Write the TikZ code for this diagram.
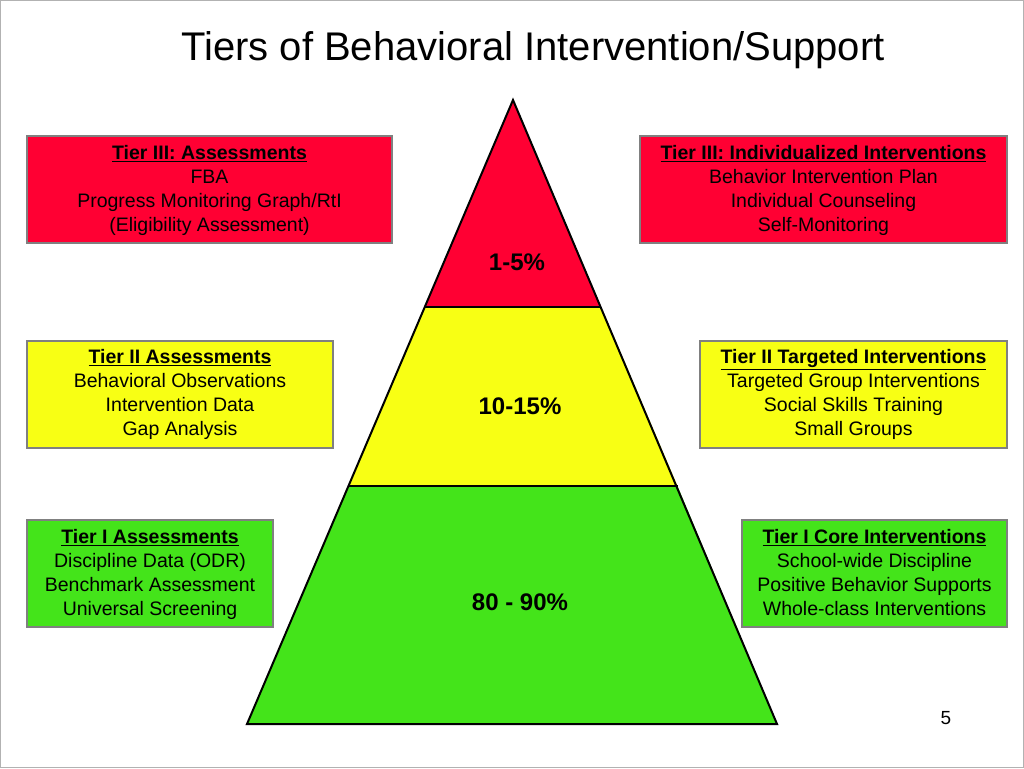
\documentclass[tikz,border=0pt]{standalone}
\usepackage{fontspec}
\setmainfont{Liberation Sans}
\definecolor{tred}{HTML}{FF0033}
\definecolor{tyel}{HTML}{F8FF14}
\definecolor{tgrn}{HTML}{44E41A}
\begin{document}
\begin{tikzpicture}[x=1pt,y=-1pt,
  box/.style={draw=gray,line width=1.2pt},
  txt/.style={align=center,font=\fontsize{19.5}{24}\selectfont,anchor=north},
  pct/.style={font=\fontsize{24}{28}\selectfont\bfseries}]
\useasboundingbox (0,0) rectangle (1024,768);
\draw[gray!60] (0.5,0.5) rectangle (1023.5,767.5);
\node[font=\fontsize{40}{44}\selectfont] (title) at (533,50) {Tiers of Behavioral Intervention/Support};
% pyramid
\coordinate (apex) at (513,100);
\coordinate (l1) at (424.8,307); \coordinate (r1) at (601.2,307);
\coordinate (l2) at (348.5,486); \coordinate (r2) at (677.5,486);
\coordinate (bl) at (247,724); \coordinate (br) at (777,724);
\fill[tred] (apex)--(r1)--(l1)--cycle;
\fill[tyel] (l1)--(r1)--(r2)--(l2)--cycle;
\fill[tgrn] (l2)--(r2)--(br)--(bl)--cycle;
\draw[line width=2pt,line join=miter] (apex)--(br)--(bl)--cycle;
\draw[line width=1.5pt] (l1)--(r1) (l2)--(r2);
\node[pct] (p1) at (517,262) {1-5\%};
\node[pct] (p2) at (520,406) {10-15\%};
\node[pct] (p3) at (520,602) {80 - 90\%};
% boxes
\draw[box,fill=tred] (27,136) rectangle (392,243);
\node[txt] (a3) at (209.5,142) {\textbf{\underline{Tier III: Assessments}}\\FBA\\Progress Monitoring Graph/RtI\\(Eligibility Assessment)};
\draw[box,fill=tred] (640,136) rectangle (1007,243);
\node[txt] (i3) at (823.5,142) {\textbf{\underline{Tier III: Individualized Interventions}}\\Behavior Intervention Plan\\Individual Counseling\\Self-Monitoring};
\draw[box,fill=tyel] (27,341) rectangle (333,448);
\node[txt] (a2) at (180,346) {\textbf{\underline{Tier II Assessments}}\\Behavioral Observations\\Intervention Data\\Gap Analysis};
\draw[box,fill=tyel] (700,341) rectangle (1007,448);
\node[txt] (i2) at (853.5,346) {\textbf{\underline{Tier II Targeted Interventions}}\\Targeted Group Interventions\\Social Skills Training\\Small Groups};
\draw[box,fill=tgrn] (27,520) rectangle (273,627);
\node[txt] (a1) at (150,526) {\textbf{\underline{Tier I Assessments}}\\Discipline Data (ODR)\\Benchmark Assessment\\Universal Screening};
\draw[box,fill=tgrn] (742,520) rectangle (1007,627);
\node[txt] (i1) at (874.5,526) {\textbf{\underline{Tier I Core Interventions}}\\School-wide Discipline\\Positive Behavior Supports\\Whole-class Interventions};
\node[font=\fontsize{19}{22}\selectfont] (pg) at (946,718) {5};
\end{tikzpicture}
\end{document}
